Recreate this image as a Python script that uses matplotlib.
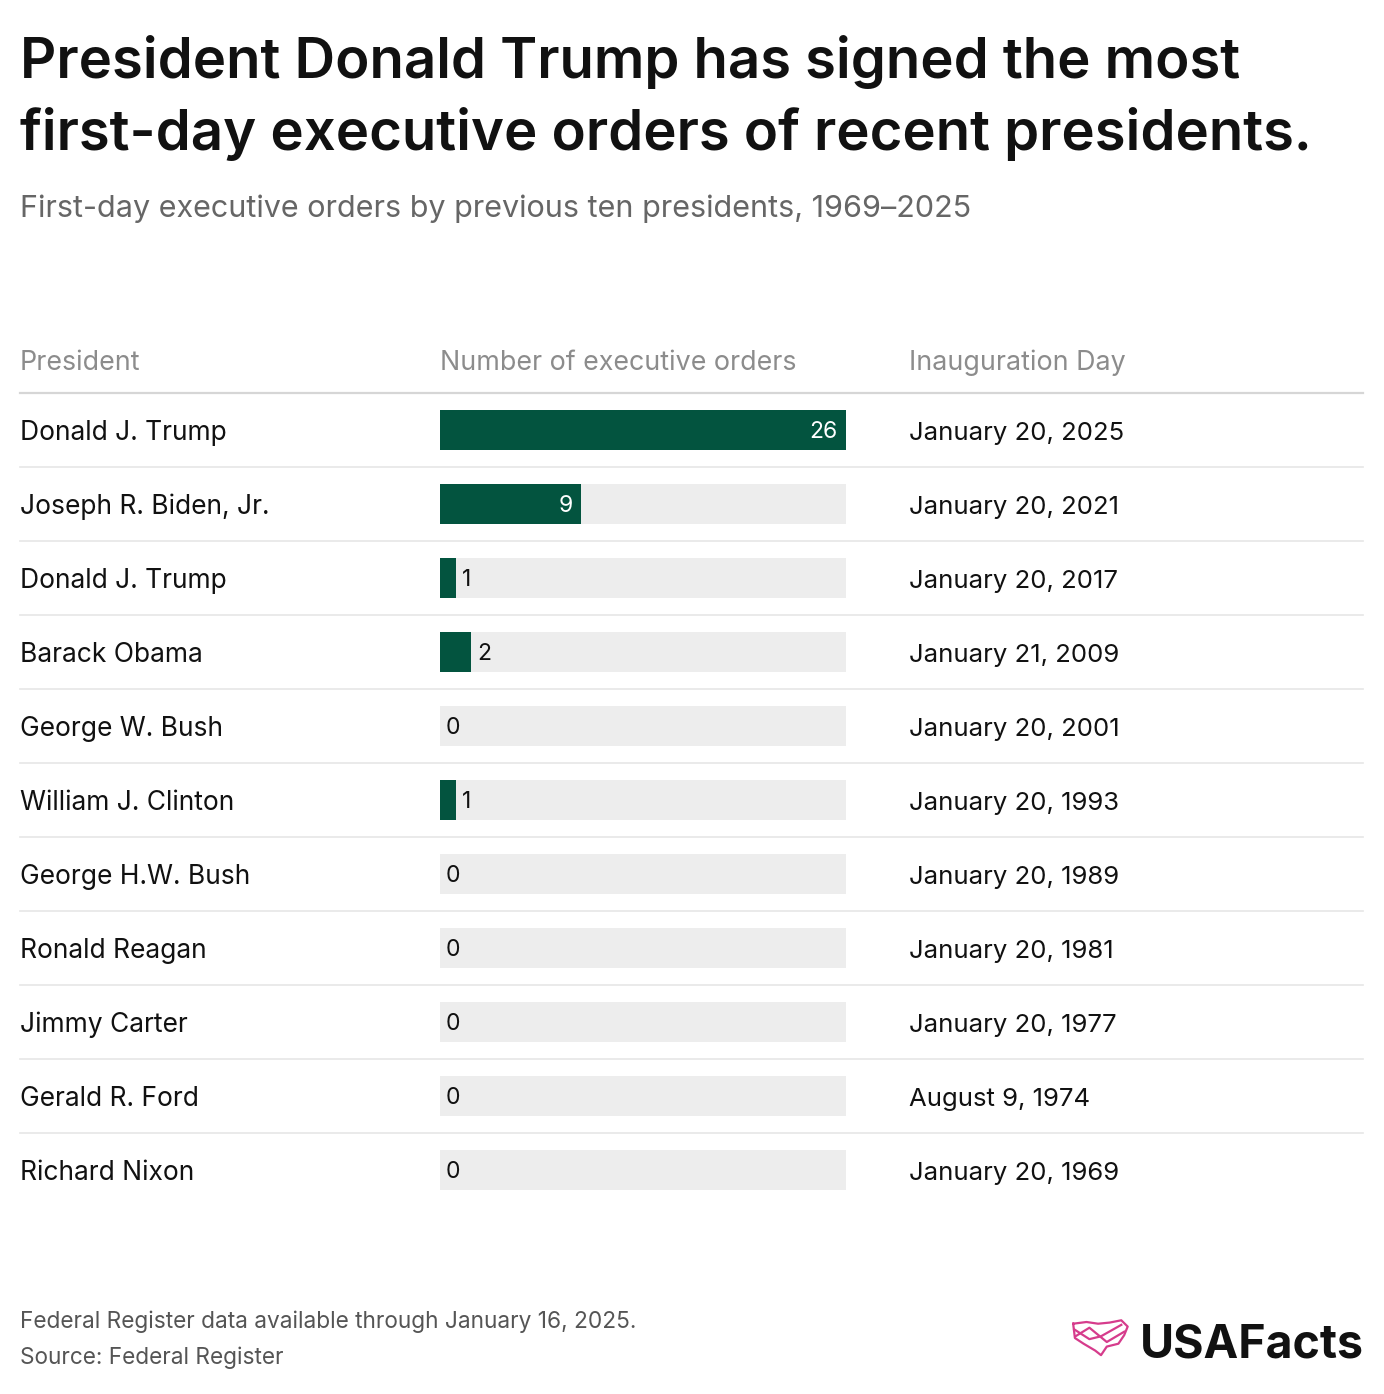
import matplotlib.pyplot as plt
from matplotlib.lines import Line2D
import matplotlib.transforms as mtransforms

plt.rcParams['font.family'] = ['Inter', 'DejaVu Sans']

presidents = ['Donald J. Trump', 'Joseph R. Biden, Jr.', 'Donald J. Trump',
              'Barack Obama', 'George W. Bush', 'William J. Clinton',
              'George H.W. Bush', 'Ronald Reagan', 'Jimmy Carter',
              'Gerald R. Ford', 'Richard Nixon']
orders = [26, 9, 1, 2, 0, 1, 0, 0, 0, 0, 0]
inaugurations = ['January 20, 2025', 'January 20, 2021', 'January 20, 2017',
                 'January 21, 2009', 'January 20, 2001', 'January 20, 1993',
                 'January 20, 1989', 'January 20, 1981', 'January 20, 1977',
                 'August 9, 1974', 'January 20, 1969']

W, H = 1384, 1394
fig = plt.figure(figsize=(W / 100, H / 100), dpi=100)

def fx(px):
    return px / W

def fy(py):
    return 1 - py / H

green = '#03543F'
track = '#EDEDED'

# titles
fig.text(fx(20), fy(78), 'President Donald Trump has signed the most',
         fontsize=40.5, fontweight='semibold', color='#111111', va='baseline')
fig.text(fx(20), fy(150), 'first-day executive orders of recent presidents.',
         fontsize=40.5, fontweight='semibold', color='#111111', va='baseline')
fig.text(fx(20), fy(217), 'First-day executive orders by previous ten presidents, 1969\u20132025',
         fontsize=22, color='#666666', va='baseline')

# bar axes
n = len(presidents)
top, bottom = 393, 393 + 74 * n
ax = fig.add_axes([fx(440), fy(bottom), fx(846) - fx(440), (bottom - top) / H])
ax.set_xlim(0, max(orders))
ax.set_ylim(n - 0.5, -0.5)
ax.axis('off')

rows = list(range(n))
ax.barh(rows, [max(orders)] * n, height=0.54, color=track, zorder=1)
ax.barh(rows, orders, height=0.54, color=green, zorder=2)

for i, v in enumerate(orders):
    if v >= 5:
        ax.annotate(str(v), (v, i), xytext=(-8, -8), textcoords='offset pixels',
                    ha='right', va='baseline', fontsize=16.5, color='white')
    else:
        ax.annotate(str(v), (v, i), xytext=(6, -8), textcoords='offset pixels',
                    ha='left', va='baseline', fontsize=16.5, color='#111111')

# row text and separators
tr = mtransforms.blended_transform_factory(fig.transFigure, ax.transData)
tr_text = mtransforms.offset_copy(tr, fig=fig, y=-10, units='dots')
for i in rows:
    fig.text(fx(20), i, presidents[i], transform=tr_text, fontsize=19,
             color='#111111', va='baseline')
    fig.text(fx(909), i, inaugurations[i], transform=tr_text, fontsize=18.5,
             color='#111111', va='baseline')
    if i < n - 1:
        fig.add_artist(Line2D([fx(20), fx(1363)], [i + 0.5, i + 0.5], transform=tr,
                              color='#E6E6E6', lw=1.2))
fig.add_artist(Line2D([fx(20), fx(1363)], [-0.5, -0.5], transform=tr,
                      color='#D6D6D6', lw=1.6))

# column headers
for x, label in [(20, 'President'), (440, 'Number of executive orders'), (909, 'Inauguration Day')]:
    fig.text(fx(x), fy(370), label, fontsize=19.3,
             color='#8C8C8C', va='baseline')

# footer
fig.text(fx(20), fy(1328), 'Federal Register data available through January 16, 2025.',
         fontsize=16.3, color='#555555', va='baseline')
fig.text(fx(20), fy(1364), 'Source: Federal Register',
         fontsize=16.3, color='#555555', va='baseline')

# logo
fig.text(fx(1364), fy(1357), 'USAFacts', fontsize=33.5, fontweight='bold',
         color='#111111', ha='right', va='baseline')
lax = fig.add_axes([fx(1072), fy(1358), fx(1130) - fx(1072), 40 / H])
lax.axis('off')
lax.set_xlim(0, 10)
lax.set_ylim(0, 7)
pink = '#D63C8C'
lax.plot([0.2, 2.5, 4.5, 6.5, 8.5, 9.6, 9.0, 8.0, 6.0, 5.0, 4.0, 2.0, 0.5, 0.2],
         [6.0, 6.3, 6.0, 6.2, 6.6, 5.5, 4.0, 2.5, 2.0, 0.5, 1.3, 2.5, 3.5, 6.0],
         color=pink, lw=1.6)
lax.plot([0.4, 3.0, 5.0, 8.5], [5.0, 3.3, 3.8, 5.8], color=pink, lw=1.6)
lax.plot([0.6, 3.0, 6.0, 9.0], [3.8, 5.3, 2.8, 4.6], color=pink, lw=1.6)

fig.savefig('out.png', dpi=100, facecolor='white')
